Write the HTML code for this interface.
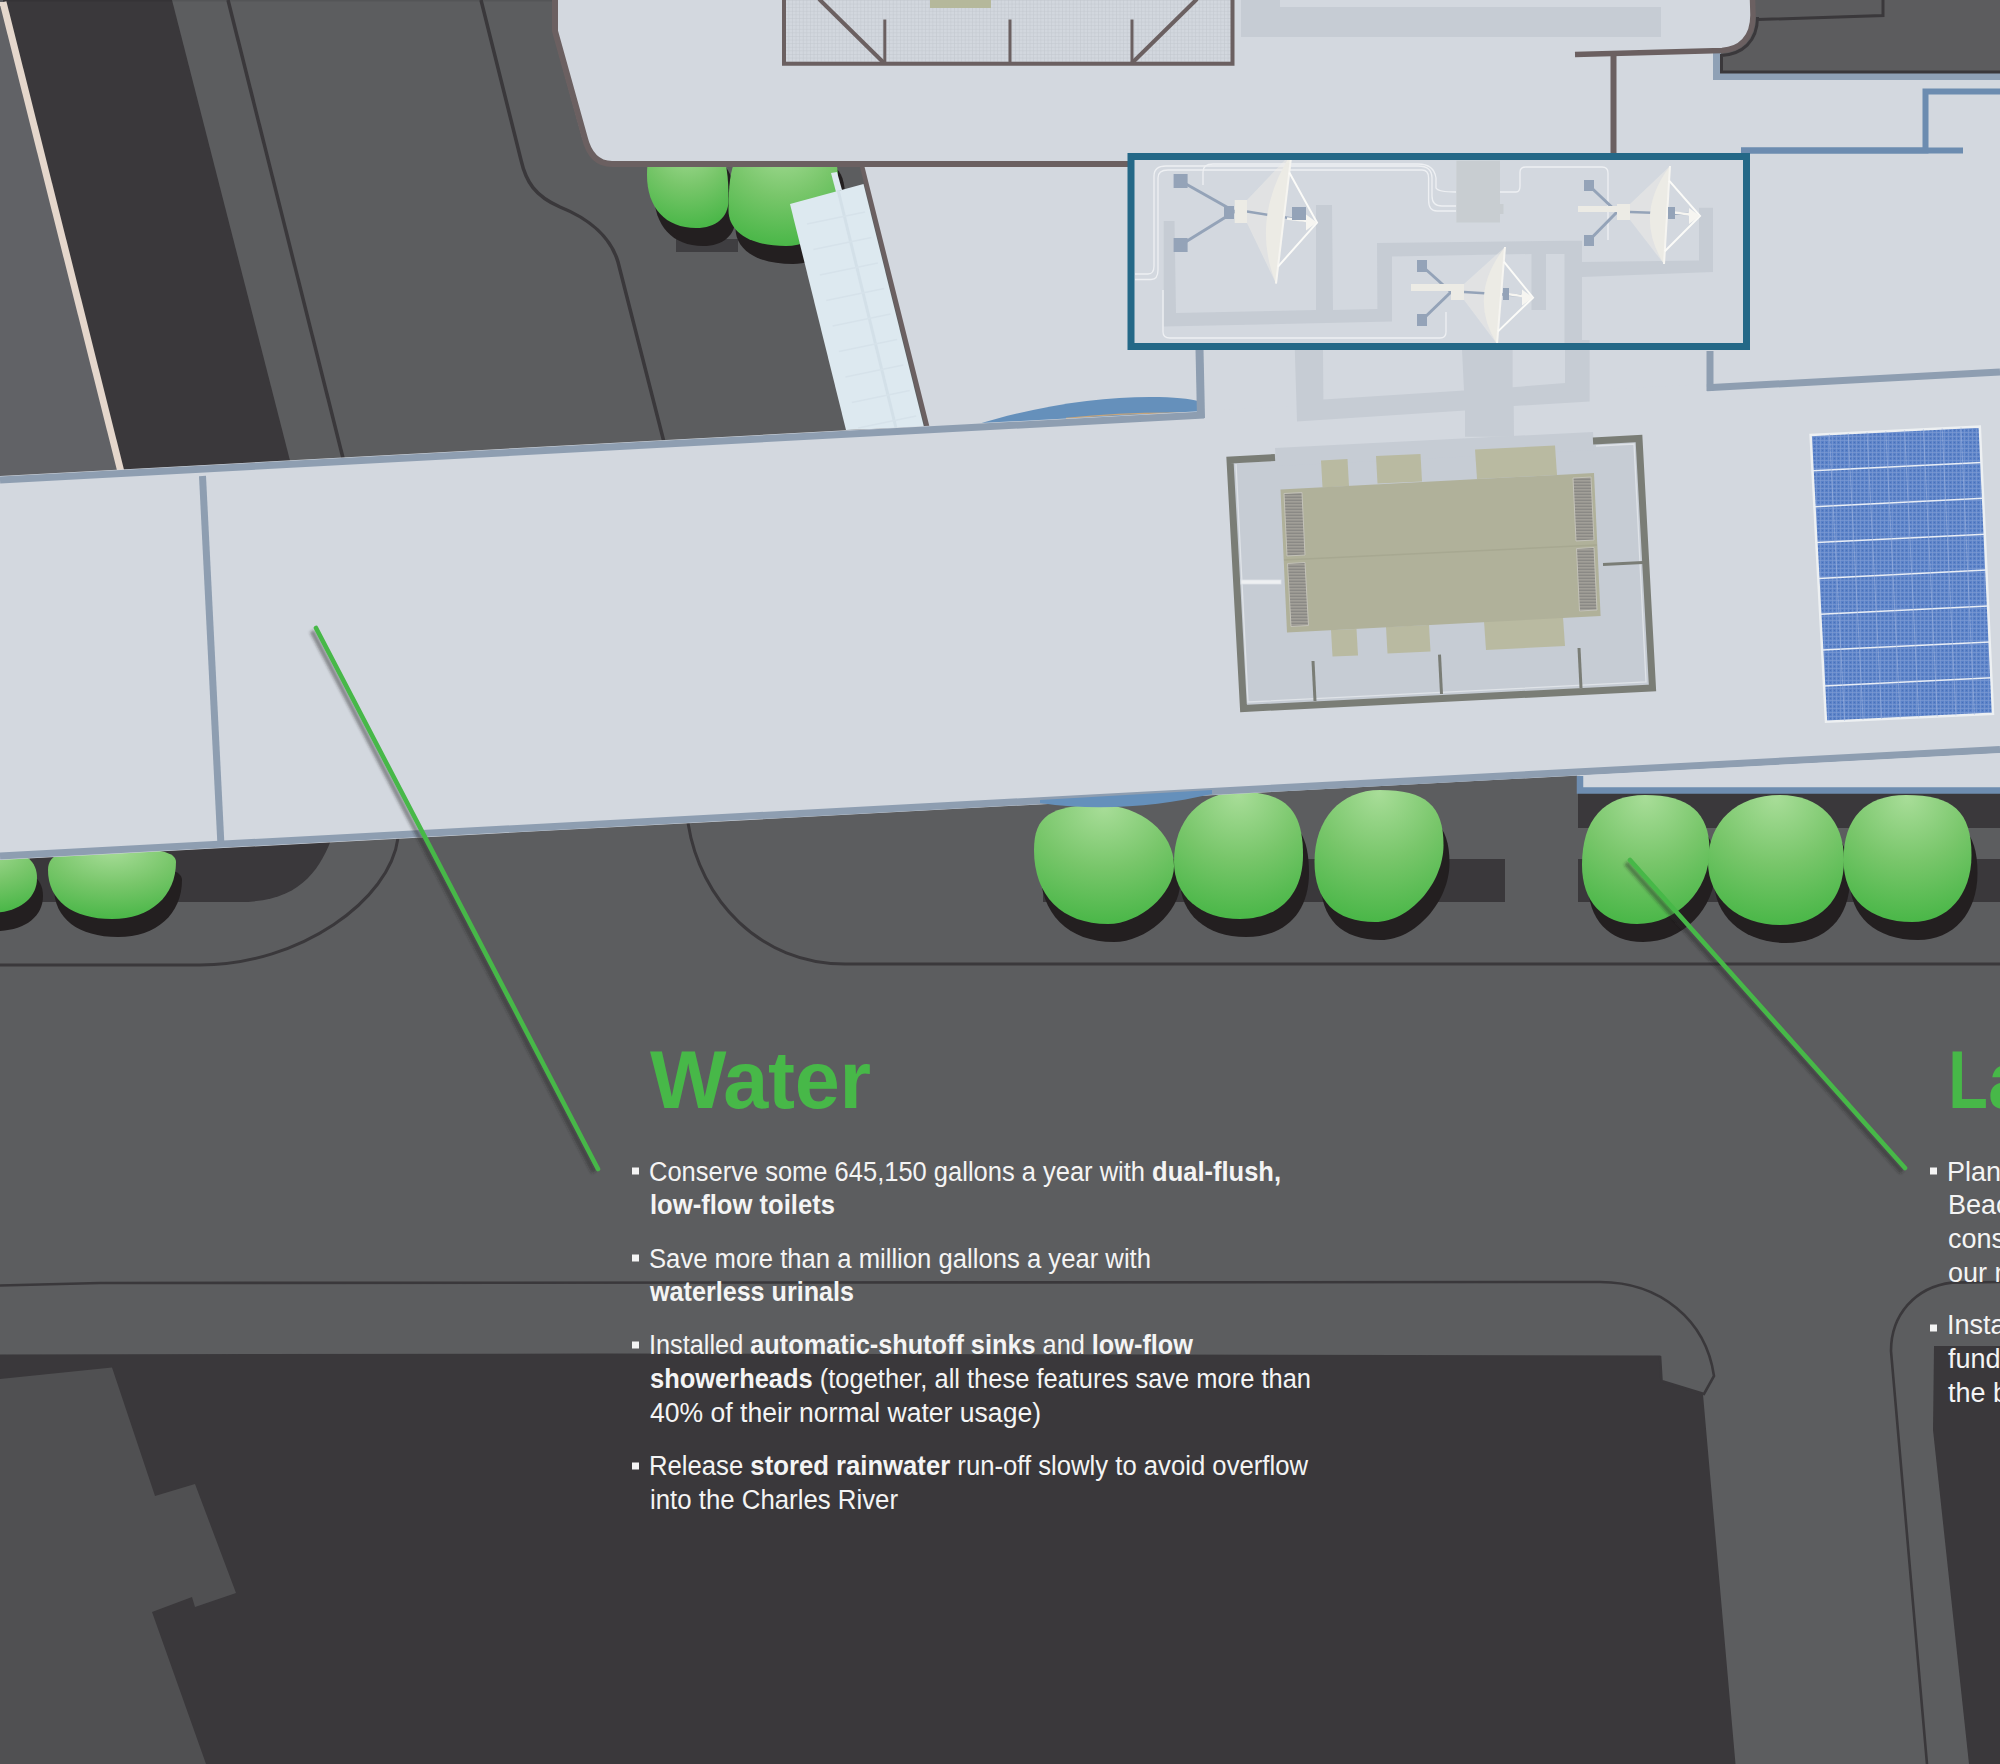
<!DOCTYPE html>
<html><head><meta charset="utf-8">
<style>
html,body{margin:0;padding:0;width:2000px;height:1764px;overflow:hidden;background:#5c5d5f;}
svg{position:absolute;left:0;top:0;display:block}
</style></head>
<body>
<svg width="2000" height="1764" viewBox="0 0 2000 1764">
<defs>
<radialGradient id="tg" cx="0.5" cy="0.05" r="1.0" fx="0.5" fy="0.02">
<stop offset="0" stop-color="#a8dd98"/><stop offset="0.5" stop-color="#78c66a"/><stop offset="0.95" stop-color="#4ab748"/>
</radialGradient>
</defs>
<rect width="2000" height="1764" fill="#5c5d5f"/>
<polygon points="0,0 3,0 124,484 0,484" fill="#616266"/>
<polygon points="3,0 172,0 296,484 124,484" fill="#3a383b"/>
<line x1="0" y1="4" x2="6" y2="4" stroke="#e5d7cc" stroke-width="4"/>
<line x1="3" y1="2" x2="124" y2="484" stroke="#e5d7cc" stroke-width="7"/>
<rect x="0" y="0" width="560" height="1.5" fill="#000" fill-opacity="0.08"/>
<line x1="228" y1="0" x2="349" y2="482" stroke="#3a383b" stroke-width="3.5"/>
<path d="M481,0 L521,160 C526,182 535,196 560,207 C590,219 611,238 618,262 L666,450" fill="none" stroke="#3a383b" stroke-width="3.5"/>
<path d="M30,850 L333,835 C320,870 300,902 240,902 L30,902 Z" fill="#3a383b"/>
<path d="M0,965 L200,965 C300,965 390,900 398,838" fill="none" stroke="#3a383b" stroke-width="3"/>
<path d="M688,823 C700,900 760,964 845,964 L2000,964" fill="none" stroke="#3a383b" stroke-width="3"/>
<rect x="1043" y="859" width="462" height="43" fill="#3a383b"/>
<rect x="1578" y="859" width="422" height="43" fill="#3a383b"/>
<rect x="1578" y="790" width="422" height="38" fill="#3a383b"/>
<path d="M-14.0,866.0 C25.9,866.0 43.0,875.0 43.0,896.0 C43.0,917.0 24.2,931.0 -4.0,931.0 C-46.0,931.0 -74.0,917.8 -74.0,898.0 C-74.0,875.6 -56.0,866.0 -14.0,866.0 Z" fill="#231f20"/>
<path d="M118.0,866.0 C164.1,866.0 182.0,869.9 182.0,880.0 C182.0,914.2 156.4,937.0 118.0,937.0 C78.3,937.0 54.0,918.4 54.0,888.0 C54.0,871.5 70.0,866.0 118.0,866.0 Z" fill="#231f20"/>
<path d="M1106.0,823.0 C1146.7,823.0 1180.0,850.5 1180.0,884.0 C1180.0,911.8 1145.7,942.0 1114.0,942.0 C1068.1,942.0 1040.0,913.9 1040.0,868.0 C1040.0,834.2 1056.5,823.0 1106.0,823.0 Z" fill="#231f20"/>
<path d="M1246.0,810.0 C1291.4,810.0 1309.0,827.6 1309.0,873.0 C1309.0,912.7 1285.1,937.0 1246.0,937.0 C1206.4,937.0 1180.0,914.2 1180.0,880.0 C1180.0,838.0 1206.4,810.0 1246.0,810.0 Z" fill="#231f20"/>
<path d="M1386.0,808.0 C1431.7,808.0 1449.5,823.4 1449.5,863.0 C1449.5,901.5 1415.2,940.0 1381.0,940.0 C1341.7,940.0 1320.5,919.0 1320.5,880.0 C1320.5,836.8 1346.7,808.0 1386.0,808.0 Z" fill="#231f20"/>
<path d="M1651.0,813.0 C1694.9,813.0 1715.5,830.6 1715.5,868.0 C1715.5,908.7 1682.9,942.0 1643.0,942.0 C1608.9,942.0 1588.0,919.6 1588.0,883.0 C1588.0,837.5 1610.0,813.0 1651.0,813.0 Z" fill="#231f20"/>
<path d="M1786.0,813.0 C1825.7,813.0 1850.0,837.7 1850.0,878.0 C1850.0,918.3 1825.7,943.0 1786.0,943.0 C1744.2,943.0 1714.0,916.5 1714.0,880.0 C1714.0,839.8 1742.8,813.0 1786.0,813.0 Z" fill="#231f20"/>
<path d="M1912.0,813.0 C1959.2,813.0 1977.5,829.8 1977.5,873.0 C1977.5,913.2 1953.7,940.0 1918.0,940.0 C1875.5,940.0 1849.5,916.4 1849.5,878.0 C1849.5,835.8 1871.4,813.0 1912.0,813.0 Z" fill="#231f20"/>
<path d="M-20.0,848.0 C19.9,848.0 37.0,857.0 37.0,878.0 C37.0,899.0 18.2,913.0 -10.0,913.0 C-52.0,913.0 -80.0,899.8 -80.0,880.0 C-80.0,857.6 -62.0,848.0 -20.0,848.0 Z" fill="url(#tg)"/>
<path d="M112.0,848.0 C158.1,848.0 176.0,851.9 176.0,862.0 C176.0,896.2 150.4,919.0 112.0,919.0 C72.3,919.0 48.0,900.4 48.0,870.0 C48.0,853.5 64.0,848.0 112.0,848.0 Z" fill="url(#tg)"/>
<path d="M1100.0,805.0 C1140.7,805.0 1174.0,832.5 1174.0,866.0 C1174.0,893.8 1139.7,924.0 1108.0,924.0 C1062.1,924.0 1034.0,895.9 1034.0,850.0 C1034.0,816.2 1050.5,805.0 1100.0,805.0 Z" fill="url(#tg)"/>
<path d="M1240.0,792.0 C1285.4,792.0 1303.0,809.6 1303.0,855.0 C1303.0,894.7 1279.1,919.0 1240.0,919.0 C1200.4,919.0 1174.0,896.2 1174.0,862.0 C1174.0,820.0 1200.4,792.0 1240.0,792.0 Z" fill="url(#tg)"/>
<path d="M1380.0,790.0 C1425.7,790.0 1443.5,805.4 1443.5,845.0 C1443.5,883.5 1409.2,922.0 1375.0,922.0 C1335.7,922.0 1314.5,901.0 1314.5,862.0 C1314.5,818.8 1340.7,790.0 1380.0,790.0 Z" fill="url(#tg)"/>
<path d="M1645.0,795.0 C1688.9,795.0 1709.5,812.6 1709.5,850.0 C1709.5,890.7 1676.9,924.0 1637.0,924.0 C1602.9,924.0 1582.0,901.6 1582.0,865.0 C1582.0,819.5 1604.0,795.0 1645.0,795.0 Z" fill="url(#tg)"/>
<path d="M1780.0,795.0 C1819.7,795.0 1844.0,819.7 1844.0,860.0 C1844.0,900.3 1819.7,925.0 1780.0,925.0 C1738.2,925.0 1708.0,898.5 1708.0,862.0 C1708.0,821.8 1736.8,795.0 1780.0,795.0 Z" fill="url(#tg)"/>
<path d="M1906.0,795.0 C1953.2,795.0 1971.5,811.8 1971.5,855.0 C1971.5,895.2 1947.7,922.0 1912.0,922.0 C1869.5,922.0 1843.5,898.4 1843.5,860.0 C1843.5,817.8 1865.4,795.0 1906.0,795.0 Z" fill="url(#tg)"/>
<rect x="676" y="239" width="62" height="13" fill="#3f3e41"/>
<path d="M697.0,158.0 C727.8,158.0 735.5,170.0 735.5,218.0 C735.5,235.4 723.1,246.0 703.0,246.0 C672.6,246.0 654.0,225.9 654.0,193.0 C654.0,165.0 662.6,158.0 697.0,158.0 Z" fill="#231f20"/>
<path d="M787.0,158.0 C833.4,158.0 845.0,166.0 845.0,198.0 C845.0,238.9 825.2,264.0 793.0,264.0 C757.4,264.0 735.5,250.3 735.5,228.0 C735.5,172.0 745.8,158.0 787.0,158.0 Z" fill="#231f20"/>
<path d="M690.0,140.0 C720.8,140.0 728.5,152.0 728.5,200.0 C728.5,217.4 716.1,228.0 696.0,228.0 C665.6,228.0 647.0,207.9 647.0,175.0 C647.0,147.0 655.6,140.0 690.0,140.0 Z" fill="url(#tg)"/>
<path d="M780.0,140.0 C826.4,140.0 838.0,148.0 838.0,180.0 C838.0,220.9 818.2,246.0 786.0,246.0 C750.4,246.0 728.5,232.3 728.5,210.0 C728.5,154.0 738.8,140.0 780.0,140.0 Z" fill="url(#tg)"/>
<path d="M552,0 L2000,0 L2000,793 L1577,793 L1577,700 L927,700 L927,427 L862,164 L612,164 Q589,164 582,137 L553,32 Z" fill="#d3d8df"/>
<path d="M555,-5 L555,31 L584.5,137 Q591,164 612,164 L1130,164" fill="none" stroke="#6b6061" stroke-width="6"/>
<line x1="862" y1="166" x2="927.5" y2="428" stroke="#6b6061" stroke-width="4.5"/>
<polygon points="790,204 863.5,184 924,427 846,430" fill="#dde9f0"/>
<polygon points="831,173 837,172 842,190 836,192" fill="#dde9f0"/>
<line x1="838" y1="190" x2="896" y2="428" stroke="#d3e0e8" stroke-width="3"/>
<line x1="807.0" y1="224.0" x2="865.0" y2="212.0" stroke="#d6e2ea" stroke-width="1.5"/>
<line x1="813.4" y1="249.5" x2="871.4" y2="237.5" stroke="#d6e2ea" stroke-width="1.5"/>
<line x1="819.8" y1="275.0" x2="877.8" y2="263.0" stroke="#d6e2ea" stroke-width="1.5"/>
<line x1="826.2" y1="300.5" x2="884.2" y2="288.5" stroke="#d6e2ea" stroke-width="1.5"/>
<line x1="832.6" y1="326.0" x2="890.6" y2="314.0" stroke="#d6e2ea" stroke-width="1.5"/>
<line x1="839.0" y1="351.5" x2="897.0" y2="339.5" stroke="#d6e2ea" stroke-width="1.5"/>
<line x1="845.4" y1="377.0" x2="903.4" y2="365.0" stroke="#d6e2ea" stroke-width="1.5"/>
<line x1="851.8" y1="402.5" x2="909.8" y2="390.5" stroke="#d6e2ea" stroke-width="1.5"/>
<line x1="858.2" y1="428.0" x2="916.2" y2="416.0" stroke="#d6e2ea" stroke-width="1.5"/>
<path d="M975,425 C1040,405 1100,397 1150,397 C1175,397 1190,399 1198,401 L1198,414 L1100,419 Z" fill="#6590bb"/>
<path d="M1066,418.5 C1110,414 1160,412.5 1198,413.5" fill="none" stroke="#c6a57c" stroke-width="1.3"/>
<polygon points="0,476 2000,368 2000,753 0,860" fill="#d3d8df"/>
<line x1="0" y1="480" x2="1204" y2="415" stroke="#8e9eb1" stroke-width="7"/>
<line x1="1707" y1="387.8" x2="2000" y2="372" stroke="#8e9eb1" stroke-width="7"/>
<line x1="1199.5" y1="349" x2="1201" y2="418" stroke="#8e9eb1" stroke-width="8"/>
<line x1="0" y1="856" x2="2000" y2="749.5" stroke="#8e9eb1" stroke-width="7"/>
<path d="M1040,803 C1100,812 1160,806 1212,794 L1212,790 L1040,800 Z" fill="#6590bb"/>
<line x1="202.5" y1="476" x2="221" y2="846" stroke="#8e9eb1" stroke-width="7"/>
<polygon points="1580,775.6 2000,753.2 2000,790 1580,790" fill="#d3d8df"/>
<polyline points="1580,776 1580,790.5 2000,790.5" fill="none" stroke="#6e8db0" stroke-width="6.5"/>
<polygon points="1713,52 1760,52 1760,0 2000,0 2000,80 1713,80" fill="#8fa1b6"/>
<path d="M1721,57 L1721,50 C1740,49 1753.5,38 1753.5,15 L1753.5,0 L2000,0 L2000,72 L1721,72 Z" fill="#5c5c5e"/>
<path d="M1757.5,17 C1757.5,42 1742,54 1721.5,55.5 L1721.5,72 L2002,72" fill="none" stroke="#3a383b" stroke-width="3"/>
<path d="M1758,19.5 L1883,15.6 L1883,0" fill="none" stroke="#3a383b" stroke-width="3"/>
<path d="M1752.5,-2 L1753,15 C1753,38 1740,49.5 1722,50.5 L1575,54.6" fill="none" stroke="#6b6061" stroke-width="5.5"/>
<line x1="1613.5" y1="52" x2="1613.5" y2="156" stroke="#6b6061" stroke-width="6"/>
<path d="M2002,91.5 L1925.5,91.5 L1925.5,150.5 L1741,150.5" fill="none" stroke="#6c8cb0" stroke-width="6"/>
<line x1="1741" y1="150.5" x2="1963" y2="150.5" stroke="#6c8cb0" stroke-width="6"/>
<polyline points="1710,391 1710,351" fill="none" stroke="#8e9eb1" stroke-width="7"/>
<defs><pattern id="grid" width="3.6" height="3.6" patternUnits="userSpaceOnUse"><rect width="3.6" height="3.6" fill="#d2d7de"/><path d="M0,0.3 H3.6 M0.3,0 V3.6" stroke="#c0c6cd" stroke-width="0.6"/></pattern></defs>
<rect x="784" y="0" width="448.5" height="62.5" fill="url(#grid)"/>
<path d="M784,-2 L784,63.8 L1232.5,63.8 L1232.5,-2" fill="none" stroke="#6b6061" stroke-width="4"/>
<line x1="819" y1="-1" x2="884" y2="63" stroke="#6b6061" stroke-width="4"/>
<line x1="1197" y1="-1" x2="1132" y2="63" stroke="#6b6061" stroke-width="4"/>
<line x1="884.8" y1="19.5" x2="884.8" y2="63" stroke="#6b6061" stroke-width="3"/>
<line x1="1010" y1="19.5" x2="1010" y2="63" stroke="#6b6061" stroke-width="3"/>
<line x1="1132" y1="19.5" x2="1132" y2="63" stroke="#6b6061" stroke-width="3"/>
<rect x="930" y="0" width="61" height="8" fill="#b5b89b"/>
<rect x="1241" y="7" width="420" height="30" fill="#c6ccd4"/>
<rect x="1241" y="0" width="39" height="36" fill="#c6ccd4"/>
<rect x="1131" y="156.5" width="615.5" height="190" fill="#d3d8df"/>
<polygon points="1294.8,350 1323,350 1323.4,399.4 1464,390.6 1462,350 1512.6,350 1512.6,387.3 1565,383 1565,340 1589.6,340 1589.6,401.6 1513.7,406 1514,436.8 1465,436.8 1465,410.4 1297,421.4" fill="#c6ccd4"/>
<polygon points="1163.7,221 1174.5,221 1176,313 1316,310 1316,205 1332,205 1333,310 1377.4,309 1377,243 1564.5,240.7 1582,240.7 1582,262 1699,260.5 1699,207.7 1713,207.7 1713,272 1582,277 1582,343 1564.5,343 1564.5,254 1546,254 1546,310 1531.5,310 1531.5,254 1392,256.4 1392,321.6 1163.7,326.5" fill="#c6ccd4"/>
<rect x="1456.4" y="160.7" width="43.6" height="61.8" fill="#c8cdd1"/>
<rect x="1500" y="204" width="3.5" height="10" fill="#c8cdd1"/>
<path d="M1135,279.5 L1151,279.5 Q1158,279.5 1158,270 L1158,178 Q1158,170 1168,170 L1422,170 Q1428.6,170 1428.6,178 L1428.6,200 Q1428.6,211 1437,211 L1456,211" fill="none" stroke="#eef0f3" stroke-width="1.3"/>
<path d="M1135,274 L1148,274 Q1154,274 1154,266 L1154,176 Q1154,166 1166,166 L1418,166 Q1432,166 1432,178 L1432,196 Q1432,206 1442,206 L1456,206" fill="none" stroke="#eef0f3" stroke-width="1.3"/>
<path d="M1203,185 L1203,172 Q1203,164 1213,164 L1418,164 Q1434,164 1436,178 L1436,188 Q1438,192 1456,192" fill="none" stroke="#eef0f3" stroke-width="1.3"/>
<path d="M1500,192 L1516,192 Q1520,192 1520,186 L1520,172 Q1520,167 1526,167 L1602,167 Q1608,167 1608,173 L1608,240" fill="none" stroke="#eef0f3" stroke-width="1.3"/>
<path d="M1163,290 L1163,332 Q1163,338 1170,338 L1440,338 Q1446,338 1446,332 L1446,312" fill="none" stroke="#eef0f3" stroke-width="1.3"/>
<polygon points="1247.0,200 1291.6,153 1276,283.6 1247.0,223" fill="#f1efe9" fill-opacity="0.45"/>
<line x1="1180.6" y1="181.0" x2="1234.7" y2="211.5" stroke="#94a3b8" stroke-width="3"/>
<line x1="1180.6" y1="245.0" x2="1234.7" y2="211.5" stroke="#94a3b8" stroke-width="3"/>
<line x1="1229.0" y1="212.5" x2="1234.7" y2="211.5" stroke="#94a3b8" stroke-width="3"/>
<rect x="1173.6" y="174" width="14" height="14" fill="#94a3b8"/>
<rect x="1173.6" y="238" width="14" height="14" fill="#94a3b8"/>
<rect x="1224" y="206" width="10" height="13" fill="#94a3b8"/>
<line x1="1247.0" y1="211.5" x2="1305" y2="220.6" stroke="#94a3b8" stroke-width="2.5"/>
<path d="M1291.6,153 Q1249.8,218.3 1276,283.6 Z" fill="#ecebe5"/>
<line x1="1291.6" y1="153" x2="1276" y2="283.6" stroke="#f6f5f1" stroke-width="2"/>
<polyline points="1289.3,172.6 1317,222.6 1278.0,266.6" fill="none" stroke="#fbfbf8" stroke-width="2"/>
<polygon points="1317,222.6 1306,214.6 1306,230.6" fill="#f6f5f1"/>
<line x1="1287" y1="218.6" x2="1311" y2="221.6" stroke="#f6f5f1" stroke-width="2.5"/>
<rect x="1234.7" y="200" width="12.3" height="23" fill="#ecebe5"/>
<rect x="1292" y="207" width="14" height="13" fill="#94a3b8"/>
<polygon points="1630,204 1670,166 1664,264 1630,220" fill="#f1efe9" fill-opacity="0.45"/>
<line x1="1589.0" y1="185.5" x2="1617" y2="212.0" stroke="#94a3b8" stroke-width="3"/>
<line x1="1589.0" y1="240.5" x2="1617" y2="212.0" stroke="#94a3b8" stroke-width="3"/>
<rect x="1584" y="180" width="10" height="11" fill="#94a3b8"/>
<rect x="1584" y="235" width="10" height="11" fill="#94a3b8"/>
<line x1="1630" y1="212.0" x2="1688" y2="214" stroke="#94a3b8" stroke-width="2.5"/>
<path d="M1670,166 Q1633.0,215.0 1664,264 Z" fill="#ecebe5"/>
<line x1="1670" y1="166" x2="1664" y2="264" stroke="#f6f5f1" stroke-width="2"/>
<polyline points="1669.1,180.7 1700,216 1664.8,251.3" fill="none" stroke="#fbfbf8" stroke-width="2"/>
<polygon points="1700,216 1689,208 1689,224" fill="#f6f5f1"/>
<line x1="1670" y1="212" x2="1694" y2="215" stroke="#f6f5f1" stroke-width="2.5"/>
<rect x="1578" y="206" width="40" height="6" fill="#ecebe5"/>
<rect x="1617" y="204" width="13" height="16" fill="#ecebe5"/>
<rect x="1668" y="207" width="7" height="12" fill="#94a3b8"/>
<polygon points="1464,284 1505,247 1497,344 1464,300" fill="#f1efe9" fill-opacity="0.45"/>
<line x1="1422.0" y1="266.0" x2="1451" y2="292.0" stroke="#94a3b8" stroke-width="3"/>
<line x1="1422.0" y1="320.0" x2="1451" y2="292.0" stroke="#94a3b8" stroke-width="3"/>
<rect x="1417" y="260" width="10" height="12" fill="#94a3b8"/>
<rect x="1417" y="314" width="10" height="12" fill="#94a3b8"/>
<line x1="1464" y1="292.0" x2="1521" y2="295.6" stroke="#94a3b8" stroke-width="2.5"/>
<path d="M1505,247 Q1467.0,295.5 1497,344 Z" fill="#ecebe5"/>
<line x1="1505" y1="247" x2="1497" y2="344" stroke="#f6f5f1" stroke-width="2"/>
<polyline points="1503.8,261.6 1533,297.6 1498.0,331.4" fill="none" stroke="#fbfbf8" stroke-width="2"/>
<polygon points="1533,297.6 1522,289.6 1522,305.6" fill="#f6f5f1"/>
<line x1="1503" y1="293.6" x2="1527" y2="296.6" stroke="#f6f5f1" stroke-width="2.5"/>
<rect x="1411" y="284" width="41" height="7" fill="#ecebe5"/>
<rect x="1451" y="284" width="13" height="16" fill="#ecebe5"/>
<rect x="1503" y="288" width="6" height="12" fill="#94a3b8"/>
<rect x="1131" y="156.5" width="615.5" height="190" fill="none" stroke="#246887" stroke-width="7"/>
<polygon points="1230,457 1639,437 1652,687 1243,708" fill="#c6ccd4"/>
<polygon points="1275,448 1593,432 1594,450 1276,466" fill="#c6ccd4"/>
<polyline points="1236,462 1275,460" fill="none" stroke="#e4e7eb" stroke-width="1.5"/>
<polyline points="1275,457.5 1230,460 1243.5,708.5 1652.5,688 1639,438.5 1593,441" fill="none" stroke="#7a7d76" stroke-width="7"/>
<polyline points="1236,464 1248,702 1646,682 1634,444 1596,446" fill="none" stroke="#dfe3e8" stroke-width="1.3"/>
<line x1="1313" y1="661" x2="1315" y2="701" stroke="#7a7d76" stroke-width="3"/>
<line x1="1439.5" y1="654.6" x2="1441.5" y2="694" stroke="#7a7d76" stroke-width="3"/>
<line x1="1579" y1="648" x2="1581" y2="688" stroke="#7a7d76" stroke-width="3"/>
<line x1="1603" y1="564.4" x2="1643" y2="562.6" stroke="#7a7d76" stroke-width="3"/>
<rect x="1241" y="580" width="40" height="4" fill="#eef0f2" stroke="#dfe3e8" stroke-width="0.8"/>
<polygon points="1321,460.5 1347.5,459 1349,486 1322.5,487.5" fill="#b9baa1"/>
<polygon points="1376,456 1420.5,454 1422,481.5 1377.5,483.5" fill="#b9baa1"/>
<polygon points="1475,449.5 1555,445.5 1557,475 1477,479" fill="#b9baa1"/>
<polygon points="1331,630 1356.5,629 1358,655.5 1332.5,656.5" fill="#b9baa1"/>
<polygon points="1386,627 1429,625 1430.5,651.5 1387.5,653.5" fill="#b9baa1"/>
<polygon points="1484,621 1563,617 1565,646 1486,650" fill="#b9baa1"/>
<polygon points="1280.5,489.6 1594,473 1600.6,616 1287,632.6" fill="#b0b19a"/>
<line x1="1284" y1="560" x2="1597" y2="545" stroke="#a7a891" stroke-width="1.5"/>
<defs><pattern id="grl" width="3" height="3" patternUnits="userSpaceOnUse"><rect width="3" height="3" fill="#a19f98"/><rect y="1.6" width="3" height="1.4" fill="#8a8985"/></pattern></defs>
<polygon points="1284,493.5 1302,492.5 1305,555 1287,556" fill="url(#grl)" stroke="#c3c2b8" stroke-width="1"/>
<polygon points="1287.5,563.5 1305,562.5 1308.5,625.5 1291,626.5" fill="url(#grl)" stroke="#c3c2b8" stroke-width="1"/>
<polygon points="1573,478 1591,477 1594,540 1576,541" fill="url(#grl)" stroke="#c3c2b8" stroke-width="1"/>
<polygon points="1576.5,548.5 1594,547.5 1597,610 1579.5,611" fill="url(#grl)" stroke="#c3c2b8" stroke-width="1"/>
<defs><pattern id="sol" width="4" height="4" patternUnits="userSpaceOnUse"><rect width="4" height="4" fill="#5a82c8"/><path d="M0,0.5 H4 M0.5,0 V4" stroke="#7b9ad3" stroke-width="0.7"/><rect x="2" y="2" width="1" height="1" fill="#4a6fb8"/></pattern></defs>
<polygon points="1810.6,435 1979.8,426.5 1993,713.7 1826,721.7" fill="url(#sol)" stroke="#edf0f2" stroke-width="2.5"/>
<line x1="1812.5" y1="470.8" x2="1981.5" y2="462.4" stroke="#e8edf5" stroke-width="1.5"/>
<line x1="1814.4" y1="506.7" x2="1983.1" y2="498.3" stroke="#e8edf5" stroke-width="1.5"/>
<line x1="1816.4" y1="542.5" x2="1984.8" y2="534.2" stroke="#e8edf5" stroke-width="1.5"/>
<line x1="1818.3" y1="578.4" x2="1986.4" y2="570.1" stroke="#e8edf5" stroke-width="1.5"/>
<line x1="1820.2" y1="614.2" x2="1988.0" y2="606.0" stroke="#e8edf5" stroke-width="1.5"/>
<line x1="1822.2" y1="650.0" x2="1989.7" y2="641.9" stroke="#e8edf5" stroke-width="1.5"/>
<line x1="1824.1" y1="685.9" x2="1991.3" y2="677.8" stroke="#e8edf5" stroke-width="1.5"/>
<line x1="1829.4" y1="434.1" x2="1844.6" y2="720.8" stroke="#9fb5e0" stroke-width="0.8" stroke-opacity="0.7"/>
<line x1="1848.2" y1="433.1" x2="1863.1" y2="719.9" stroke="#9fb5e0" stroke-width="0.8" stroke-opacity="0.7"/>
<line x1="1867.0" y1="432.2" x2="1881.7" y2="719.0" stroke="#9fb5e0" stroke-width="0.8" stroke-opacity="0.7"/>
<line x1="1885.8" y1="431.2" x2="1900.2" y2="718.1" stroke="#9fb5e0" stroke-width="0.8" stroke-opacity="0.7"/>
<line x1="1904.6" y1="430.3" x2="1918.8" y2="717.3" stroke="#9fb5e0" stroke-width="0.8" stroke-opacity="0.7"/>
<line x1="1923.4" y1="429.3" x2="1937.3" y2="716.4" stroke="#9fb5e0" stroke-width="0.8" stroke-opacity="0.7"/>
<line x1="1942.2" y1="428.4" x2="1955.9" y2="715.5" stroke="#9fb5e0" stroke-width="0.8" stroke-opacity="0.7"/>
<line x1="1961.0" y1="427.4" x2="1974.4" y2="714.6" stroke="#9fb5e0" stroke-width="0.8" stroke-opacity="0.7"/>
<path d="M0,1354.5 L600,1353.5 L1660.5,1355.6 L1661.5,1381 L1703,1394.5 L1735.5,1764 L0,1764 Z" fill="#3a383b"/>
<polygon points="0,1379 112,1367.5 155,1496 195,1484 236,1593 195,1607 192,1597 152,1612 206,1764 0,1764" fill="#505052"/>
<path d="M0,1285.5 L100,1283 L1600,1282 C1660,1282 1706,1320 1714,1376 L1704,1394 L1661.5,1381 L1660,1356" fill="none" stroke="#3a383b" stroke-width="2.6"/>
<path d="M1934,1346 L2000,1346 L2000,1764 L1969,1764 L1933,1430 Z" fill="#3a383b"/>
<path d="M2002,1282 L1952,1282.6 C1915,1287 1891,1315 1891,1351 L1927,1764" fill="none" stroke="#3a383b" stroke-width="2.6"/>
<defs><filter id="blr" x="-10%" y="-10%" width="120%" height="120%"><feGaussianBlur stdDeviation="1.6"/></filter></defs>
<line x1="312" y1="631" x2="594" y2="1172" stroke="#222" stroke-opacity="0.45" stroke-width="5" filter="url(#blr)"/>
<line x1="316" y1="628" x2="598" y2="1169" stroke="#47b848" stroke-width="4.6" stroke-linecap="round"/>
<line x1="1626" y1="863" x2="1902" y2="1172" stroke="#222" stroke-opacity="0.45" stroke-width="5" filter="url(#blr)"/>
<line x1="1630" y1="860" x2="1905" y2="1168" stroke="#47b848" stroke-width="4.6" stroke-linecap="round"/>
<text x="650" y="1108" font-size="81" font-weight="bold" fill="#47b848" font-family="'Liberation Sans', sans-serif" textLength="221" lengthAdjust="spacing">Water</text>
<text transform="translate(1948.3,1108) scale(0.8,1)" x="0" y="0" font-size="81" font-weight="bold" fill="#47b848" font-family="'Liberation Sans', sans-serif">L</text>
<text x="1988" y="1108" font-size="81" font-weight="bold" fill="#47b848" font-family="'Liberation Sans', sans-serif">a</text>
<rect x="632" y="1167.5" width="7" height="7" fill="#f4f4f4"/>
<rect x="632" y="1254.5" width="7" height="7" fill="#f4f4f4"/>
<rect x="632" y="1341.5" width="7" height="7" fill="#f4f4f4"/>
<rect x="632" y="1462.5" width="7" height="7" fill="#f4f4f4"/>
<rect x="1930" y="1167.5" width="7" height="7" fill="#f4f4f4"/>
<rect x="1930" y="1324.5" width="7" height="7" fill="#f4f4f4"/>
<text x="649" y="1180.5" font-size="27" fill="#f4f4f4" font-family="'Liberation Sans', sans-serif" textLength="632" lengthAdjust="spacingAndGlyphs" xml:space="preserve">Conserve some 645,150 gallons a year with <tspan font-weight="bold">dual-flush,</tspan></text>
<text x="650" y="1214" font-size="27" fill="#f4f4f4" font-family="'Liberation Sans', sans-serif" textLength="185" lengthAdjust="spacingAndGlyphs" xml:space="preserve"><tspan font-weight="bold">low-flow toilets</tspan></text>
<text x="649" y="1267.5" font-size="27" fill="#f4f4f4" font-family="'Liberation Sans', sans-serif" textLength="502" lengthAdjust="spacingAndGlyphs" xml:space="preserve">Save more than a million gallons a year with</text>
<text x="650" y="1301" font-size="27" fill="#f4f4f4" font-family="'Liberation Sans', sans-serif" textLength="204" lengthAdjust="spacingAndGlyphs" xml:space="preserve"><tspan font-weight="bold">waterless urinals</tspan></text>
<text x="649" y="1353.5" font-size="27" fill="#f4f4f4" font-family="'Liberation Sans', sans-serif" textLength="544" lengthAdjust="spacingAndGlyphs" xml:space="preserve">Installed <tspan font-weight="bold">automatic-shutoff sinks</tspan> and <tspan font-weight="bold">low-flow</tspan></text>
<text x="650" y="1388" font-size="27" fill="#f4f4f4" font-family="'Liberation Sans', sans-serif" textLength="661" lengthAdjust="spacingAndGlyphs" xml:space="preserve"><tspan font-weight="bold">showerheads</tspan> (together, all these features save more than</text>
<text x="650" y="1422" font-size="27" fill="#f4f4f4" font-family="'Liberation Sans', sans-serif" textLength="391" lengthAdjust="spacingAndGlyphs" xml:space="preserve">40% of their normal water usage)</text>
<text x="649" y="1474.5" font-size="27" fill="#f4f4f4" font-family="'Liberation Sans', sans-serif" textLength="659" lengthAdjust="spacingAndGlyphs" xml:space="preserve">Release <tspan font-weight="bold">stored rainwater</tspan> run-off slowly to avoid overflow</text>
<text x="650" y="1508.5" font-size="27" fill="#f4f4f4" font-family="'Liberation Sans', sans-serif" textLength="248" lengthAdjust="spacingAndGlyphs" xml:space="preserve">into the Charles River</text>
<text x="1947" y="1180.5" font-size="27" fill="#f4f4f4" font-family="'Liberation Sans', sans-serif" xml:space="preserve">Planted</text>
<text x="1948" y="1214" font-size="27" fill="#f4f4f4" font-family="'Liberation Sans', sans-serif" xml:space="preserve">Beach</text>
<text x="1948" y="1248" font-size="27" fill="#f4f4f4" font-family="'Liberation Sans', sans-serif" xml:space="preserve">conserve</text>
<text x="1948" y="1281.5" font-size="27" fill="#f4f4f4" font-family="'Liberation Sans', sans-serif" xml:space="preserve">our n</text>
<text x="1947" y="1334" font-size="27" fill="#f4f4f4" font-family="'Liberation Sans', sans-serif" xml:space="preserve">Installed</text>
<text x="1948" y="1368" font-size="27" fill="#f4f4f4" font-family="'Liberation Sans', sans-serif" xml:space="preserve">funds</text>
<text x="1948" y="1402" font-size="27" fill="#f4f4f4" font-family="'Liberation Sans', sans-serif" xml:space="preserve">the b</text>
</svg>
</body></html>
